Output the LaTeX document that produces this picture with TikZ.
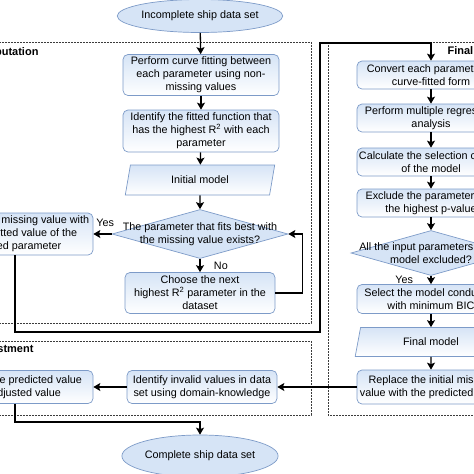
\documentclass[tikz,border=0pt]{standalone}
\usepackage{fontspec}
\setmainfont{Liberation Sans}
\usetikzlibrary{arrows.meta,positioning,shapes.geometric}
\definecolor{edgeblue}{RGB}{125,155,200}
\definecolor{fillblue}{RGB}{214,228,246}
\definecolor{regiongray}{RGB}{60,60,60}
\begin{document}
\begin{tikzpicture}[
  x=1pt, y=-1pt,
  every node/.style={font=\fontsize{10.8}{13}\selectfont},
  process/.style={rectangle, rounded corners=5pt, draw=edgeblue, line width=0.7pt,
    top color=fillblue, bottom color=white, align=center, inner sep=0pt},
  terminal/.style={ellipse, draw=edgeblue, line width=0.7pt, fill=fillblue, inner sep=0pt},
  iodata/.style={trapezium, trapezium left angle=75, trapezium right angle=105,
    trapezium stretches=true, draw=edgeblue, line width=0.7pt,
    top color=fillblue, bottom color=white, inner sep=0pt},
  decision/.style={diamond, draw=edgeblue, line width=0.7pt, fill=fillblue, inner sep=0pt},
  region/.style={draw=regiongray, line width=0.8pt, dash pattern=on 1.6pt off 1.4pt},
  regionlabel/.style={font=\fontsize{11}{13}\selectfont\bfseries},
  arrow/.style={-{Stealth[length=7pt,width=8pt,inset=1.5pt]}, line width=1.3pt},
  link/.style={line width=1.3pt}
]
  \useasboundingbox (0,0) rectangle (474,474);
  \clip (0,0) rectangle (474,474);

  \draw[region] (-20,42) rectangle (311,323);
  \draw[region] (328,42) rectangle (520,415);
  \draw[region] (-20,341) rectangle (311,415);
  \node[regionlabel, anchor=east] (impLabel) at (42,53) {Initial imputation};
  \node[regionlabel, anchor=west] (finLabel) at (444,52) {Final imputation};
  \node[regionlabel, anchor=east] (adjLabel) at (37,350) {Adjustment};

  \node[terminal, minimum width=156, minimum height=33] (start) at (200,16) {Incomplete ship data set};
  \node[process, minimum width=156, minimum height=41] (fit) at (201,75)
    {Perform curve fitting between\\each parameter using non-\\missing values};
  \node[process, minimum width=156, minimum height=42] (ident) at (201,131)
    {Identify the fitted function that\\has the highest R\textsuperscript{2} with each\\parameter};
  \node[iodata, minimum width=150, minimum height=30] (initModel) at (200,180) {Initial model};
  \node[decision, minimum width=176, minimum height=49,
    label={[align=center, font=\fontsize{10.8}{13}\selectfont]center:The parameter that fits best with\\the missing value exists?}] (exists) at (200,234) {};
  \node[process, minimum width=156, minimum height=42] (bestFit) at (15,234)
    {Replace the missing value with\\the best-fitted value of the\\selected parameter};
  \node[process, minimum width=150, minimum height=41] (choose) at (200,293)
    {Choose the next\\highest R\textsuperscript{2} parameter in the\\dataset};

  \node[process, minimum width=148, minimum height=28] (convert) at (431,75)
    {Convert each parameter to\\curve-fitted form};
  \node[process, minimum width=148, minimum height=28] (regress) at (431,118)
    {Perform multiple regression\\analysis};
  \node[process, minimum width=148, minimum height=28] (criteria) at (431,162)
    {Calculate the selection criteria\\of the model};
  \node[process, minimum width=148, minimum height=28] (exclude) at (431,203)
    {Exclude the parameter with\\the highest p-value};
  \node[decision, minimum width=160, minimum height=45,
    label={[align=center, font=\fontsize{10.8}{13}\selectfont]center:All the input parameters in the\\model excluded?}] (allOut) at (431,253) {};
  \node[process, minimum width=148, minimum height=29] (select) at (431,299)
    {Select the model conducted\\with minimum BIC};
  \node[iodata, minimum width=152, minimum height=29] (finalModel) at (431,342) {Final model};
  \node[process, minimum width=148, minimum height=34] (replace) at (431,387)
    {Replace the initial missing\\value with the predicted value};

  \node[process, minimum width=150, minimum height=33] (invalid) at (202,387)
    {Identify invalid values in data\\set using domain-knowledge};
  \node[process, minimum width=156, minimum height=33] (adjust) at (15,387)
    {Replace the predicted value\\with adjusted value};
  \node[terminal, minimum width=146, minimum height=42] (finish) at (200,456) {Complete ship data set};

  \coordinate (loopA) at (320,332);
  \coordinate (loopB) at (320,43);
  \coordinate (loopC) at (200,422);

  \draw[arrow] (start) -- (fit);
  \draw[arrow] (fit) -- (ident);
  \draw[arrow] (ident) -- (initModel);
  \draw[arrow] (initModel) -- (exists);
  \draw[arrow] (exists.west) -- node[above, pos=0.35, yshift=3pt] (yesA) {Yes} (bestFit.east);
  \draw[arrow] (exists.south) -- node[right, xshift=10pt] (noA) {No} (choose.north);
  \draw[arrow] (choose.east) -- ++(27,0) |- (exists.east);
  \draw[arrow] (bestFit.south) |- (loopA) -- (loopB) -| (convert.north);

  \draw[arrow] (convert) -- (regress);
  \draw[arrow] (regress) -- (criteria);
  \draw[arrow] (criteria) -- (exclude);
  \draw[arrow] (exclude) -- (allOut);
  \draw[arrow] (allOut.south) -- node[left, xshift=-14pt] (yesB) {Yes} (select.north);
  \draw[arrow] (select) -- (finalModel);
  \draw[arrow] (finalModel) -- (replace);
  \draw[arrow] (replace) -- (invalid);
  \draw[arrow] (invalid) -- (adjust);
  \draw[arrow] (adjust.south) |- (loopC) -- (finish.north);
\end{tikzpicture}
\end{document}
